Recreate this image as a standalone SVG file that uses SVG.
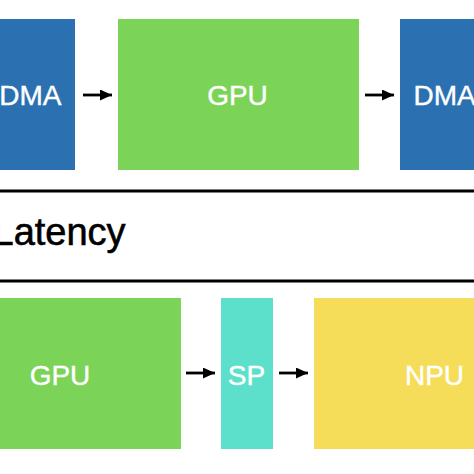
<svg xmlns="http://www.w3.org/2000/svg" width="474" height="474" viewBox="0 0 474 474">
<defs>
<style>
.lbl{font-family:"Liberation Sans",Arial,sans-serif;font-size:28px;fill:#ffffff;stroke:#ffffff;stroke-width:0.4}
.blue{fill:#2b70b0}
.green{fill:#7bd357}
.teal{fill:#5de0cb}
.yellow{fill:#f5dd5a}
.arrow{stroke:#000;stroke-width:2.8;fill:none}
.rule{stroke:#000;stroke-width:3}
</style>
<marker id="ah" markerWidth="12" markerHeight="11" refX="12" refY="5.5" orient="auto" markerUnits="userSpaceOnUse">
<path d="M0,0 L12,5.5 L0,11 Z" fill="#000"/>
</marker>
</defs>
<rect width="474" height="474" fill="#fff"/>
<g id="dma1"><rect class="blue" x="-2" y="19" width="77" height="151"/><text class="lbl" x="61.5" y="105" text-anchor="end">DMA</text></g>
<g id="gpu1"><rect class="green" x="118" y="19" width="241" height="151"/><text class="lbl" x="237.5" y="105" text-anchor="middle">GPU</text></g>
<g id="dma2"><rect class="blue" x="400" y="19" width="76" height="151"/><text class="lbl" x="413.5" y="105">DMA</text></g>
<g id="rules">
<line class="rule" x1="0" y1="191" x2="474" y2="191"/>
<line class="rule" x1="0" y1="281" x2="474" y2="281"/>
</g>
<text id="title" x="-7.5" y="245" font-family="'Liberation Sans',Arial,sans-serif" font-size="38" fill="#000" stroke="#000" stroke-width="0.6">Latency</text>
<g id="gpu2"><rect class="green" x="-2" y="298" width="183" height="151"/><text class="lbl" x="60" y="385" text-anchor="middle">GPU</text></g>
<g id="sp"><rect class="teal" x="221" y="298" width="52" height="151"/><text class="lbl" x="246.5" y="385" text-anchor="middle">SP</text></g>
<g id="npu"><rect class="yellow" x="314" y="298" width="162" height="151"/><text class="lbl" x="434.5" y="385" text-anchor="middle">NPU</text></g>
<g id="connectors">
<line class="arrow" x1="83" y1="95" x2="112" y2="95" marker-end="url(#ah)"/>
<line class="arrow" x1="365" y1="95" x2="394" y2="95" marker-end="url(#ah)"/>
<line class="arrow" x1="186" y1="373" x2="215" y2="373" marker-end="url(#ah)"/>
<line class="arrow" x1="279" y1="373" x2="308" y2="373" marker-end="url(#ah)"/>
</g>
</svg>
